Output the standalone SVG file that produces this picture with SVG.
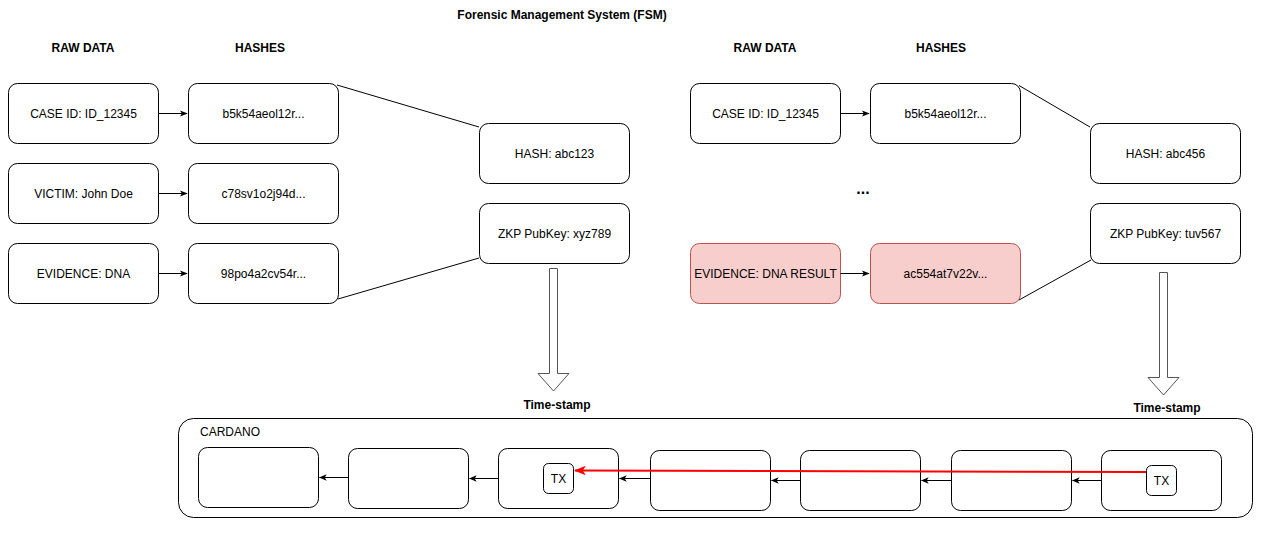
<svg xmlns="http://www.w3.org/2000/svg" width="1275" height="538" viewBox="0 0 1275 538">
<defs>
<style>
.box{fill:#ffffff;stroke:#000000;stroke-width:1}
.pink{fill:#f8cecc;stroke:#b85450;stroke-width:1}
.t{font-family:"Liberation Sans",Arial,sans-serif;font-size:12px;fill:#000000;text-anchor:middle;dominant-baseline:central}
.b{font-weight:bold}
.edge{fill:none;stroke:#000000;stroke-width:1}
.red{fill:none;stroke:#ff0000;stroke-width:2}
.barrow{fill:#ffffff;stroke:#555555;stroke-width:1}
</style>
<marker id="arr" viewBox="0 0 10 8" refX="9" refY="4" markerWidth="8" markerHeight="7" markerUnits="userSpaceOnUse" orient="auto">
<path d="M0,0 L10,4 L0,8 L2.5,4 Z" fill="#000000"/>
</marker>
<marker id="arrRed" viewBox="0 0 10 8" refX="9" refY="4" markerWidth="12" markerHeight="10" markerUnits="userSpaceOnUse" orient="auto">
<path d="M0,0 L10,4 L0,8 L2.5,4 Z" fill="#ff0000"/>
</marker>
</defs>
<rect width="1275" height="538" fill="#ffffff"/>

<g id="labels">
<text class="t b" x="562" y="15">Forensic Management System (FSM)</text>
<text class="t b" x="83" y="48">RAW DATA</text>
<text class="t b" x="260" y="48">HASHES</text>
<text class="t b" x="765" y="48">RAW DATA</text>
<text class="t b" x="941" y="48">HASHES</text>
<text class="t" x="863" y="188" style="font-size:16px;font-weight:bold">...</text>
<text class="t b" x="557" y="405">Time-stamp</text>
<text class="t b" x="1167" y="408">Time-stamp</text>
</g>

<g id="cardano">
<rect class="box" x="178.5" y="418.5" width="1074" height="99" rx="15" ry="15"/>
<text class="t" x="200" y="432" style="text-anchor:start">CARDANO</text>
</g>

<g id="left-case"><rect class="box" x="8.5" y="83.5" width="150" height="60" rx="9"/><text class="t" x="83.5" y="113.5">CASE ID: ID_12345</text></g>
<g id="left-victim"><rect class="box" x="8.5" y="163.5" width="150" height="60" rx="9"/><text class="t" x="83.5" y="193.5">VICTIM: John Doe</text></g>
<g id="left-evidence"><rect class="box" x="8.5" y="243.5" width="150" height="60" rx="9"/><text class="t" x="83.5" y="273.5">EVIDENCE: DNA</text></g>
<g id="left-hash1"><rect class="box" x="188.5" y="83.5" width="150" height="60" rx="9"/><text class="t" x="263.5" y="113.5">b5k54aeol12r...</text></g>
<g id="left-hash2"><rect class="box" x="188.5" y="163.5" width="150" height="60" rx="9"/><text class="t" x="263.5" y="193.5">c78sv1o2j94d...</text></g>
<g id="left-hash3"><rect class="box" x="188.5" y="243.5" width="150" height="60" rx="9"/><text class="t" x="263.5" y="273.5">98po4a2cv54r...</text></g>
<g id="left-hash"><rect class="box" x="479.5" y="123.5" width="150" height="60" rx="9"/><text class="t" x="554.5" y="153.5">HASH: abc123</text></g>
<g id="left-zkp"><rect class="box" x="479.5" y="203.5" width="150" height="60" rx="9"/><text class="t" x="554.5" y="233.5">ZKP PubKey: xyz789</text></g>

<g id="right-case"><rect class="box" x="690.5" y="83.5" width="150" height="60" rx="9"/><text class="t" x="765.5" y="113.5">CASE ID: ID_12345</text></g>
<g id="right-hash1"><rect class="box" x="870.5" y="83.5" width="150" height="60" rx="9"/><text class="t" x="945.5" y="113.5">b5k54aeol12r...</text></g>
<g id="right-evidence"><rect class="pink" x="690.5" y="243.5" width="150" height="60" rx="9"/><text class="t" x="765.5" y="273.5">EVIDENCE: DNA RESULT</text></g>
<g id="right-hash3"><rect class="pink" x="870.5" y="243.5" width="150" height="60" rx="9"/><text class="t" x="945.5" y="273.5">ac554at7v22v...</text></g>
<g id="right-hash"><rect class="box" x="1090.5" y="123.5" width="150" height="60" rx="9"/><text class="t" x="1165.5" y="153.5">HASH: abc456</text></g>
<g id="right-zkp"><rect class="box" x="1090.5" y="203.5" width="150" height="60" rx="9"/><text class="t" x="1165.5" y="233.5">ZKP PubKey: tuv567</text></g>

<g id="block1"><rect class="box" x="198.5" y="447.5" width="120" height="60" rx="9"/></g>
<g id="block2"><rect class="box" x="348.5" y="448.5" width="120" height="60" rx="9"/></g>
<g id="block3"><rect class="box" x="498.5" y="448.5" width="120" height="60" rx="9"/></g>
<g id="block4"><rect class="box" x="650.5" y="450.5" width="120" height="60" rx="9"/></g>
<g id="block5"><rect class="box" x="800.5" y="450.5" width="120" height="60" rx="9"/></g>
<g id="block6"><rect class="box" x="951.5" y="450.5" width="120" height="60" rx="9"/></g>
<g id="block7"><rect class="box" x="1101.5" y="450.5" width="120" height="60" rx="9"/></g>
<g id="tx1"><rect class="box" x="543.5" y="463.5" width="30" height="30" rx="5"/><text class="t" x="558.5" y="478.5">TX</text></g>
<g id="tx2"><rect class="box" x="1146.5" y="465.5" width="30" height="30" rx="5"/><text class="t" x="1161.5" y="480.5">TX</text></g>

<g id="connectors">
<line class="edge" x1="158.5" y1="113.5" x2="187" y2="113.5" marker-end="url(#arr)"/>
<line class="edge" x1="158.5" y1="193.5" x2="187" y2="193.5" marker-end="url(#arr)"/>
<line class="edge" x1="158.5" y1="273.5" x2="187" y2="273.5" marker-end="url(#arr)"/>
<line class="edge" x1="840.5" y1="113.5" x2="869" y2="113.5" marker-end="url(#arr)"/>
<line class="edge" x1="840.5" y1="273.5" x2="869" y2="273.5" marker-end="url(#arr)"/>
<line class="edge" x1="337" y1="85" x2="479" y2="127"/>
<line class="edge" x1="338" y1="299" x2="479" y2="258"/>
<line class="edge" x1="1019" y1="85.5" x2="1090" y2="127"/>
<line class="edge" x1="1019" y1="300" x2="1091" y2="260"/>
<path class="barrow" d="M549.5,268.5 L557.5,268.5 L557.5,373.5 L569,373.5 L553.5,391 L538,373.5 L549.5,373.5 Z"/>
<path class="barrow" d="M1159.5,272.5 L1167.5,272.5 L1167.5,377.5 L1179,377.5 L1163.5,395 L1148,377.5 L1159.5,377.5 Z"/>
<line class="edge" x1="348.5" y1="477.5" x2="319.5" y2="477.5" marker-end="url(#arr)"/>
<line class="edge" x1="498.5" y1="478.5" x2="469.5" y2="478.5" marker-end="url(#arr)"/>
<line class="edge" x1="650.5" y1="478.5" x2="619.5" y2="478.5" marker-end="url(#arr)"/>
<line class="edge" x1="800.5" y1="480.5" x2="771.5" y2="480.5" marker-end="url(#arr)"/>
<line class="edge" x1="951.5" y1="480.5" x2="921.5" y2="480.5" marker-end="url(#arr)"/>
<line class="edge" x1="1101.5" y1="480.5" x2="1072.5" y2="480.5" marker-end="url(#arr)"/>
<line class="red" x1="1146" y1="472" x2="575" y2="470.5" marker-end="url(#arrRed)"/>
</g>
</svg>
